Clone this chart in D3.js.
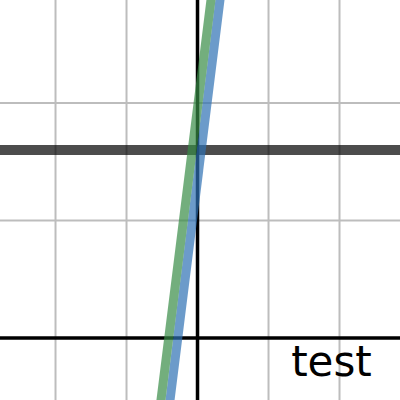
<!DOCTYPE html>
<html>
<head>
<meta charset="utf-8">
<script src="https://cdn.jsdelivr.net/npm/d3@7"></script>
<style>
	html, body { margin: 0; padding: 0; background: #fff; }
	svg { display: block; }
</style>
</head>
<body>
<svg id="graph" width="400" height="400"></svg>
<script>
// Visible window of the graph, in graph units
const xDomain = [-2.782, 2.852];
const yDomain = [-0.528, 2.877];

// Grid lines (every unit)
const xGrid = [-2, -1, 1, 2];
const yGrid = [1, 2];

// Thick horizontal line y = 1.6
const hLineY = 1.6;

// Two steep lines, read as endpoints
const blueX = [-0.423, 0.342];
const blueY = [-0.7, 3.0];
const greenX = [-0.55, 0.215];
const greenY = [-0.7, 3.0];

// Label
const labelText = "test";
const labelX = 1.887;
const labelY = -0.323;

function whenDocumentLoaded(action) {
	if (document.readyState === "loading") {
		document.addEventListener("DOMContentLoaded", action);
	} else {
		action();
	}
}

whenDocumentLoaded(() => {
	const svg = d3.select("#graph");
	const width = +svg.attr("width");
	const height = +svg.attr("height");

	const x = d3.scaleLinear().domain(xDomain).range([0, width]);
	const y = d3.scaleLinear().domain(yDomain).range([height, 0]);

	svg.append("defs")
		.append("clipPath")
		.attr("id", "clip")
		.append("rect")
		.attr("width", width)
		.attr("height", height);

	const plot = svg.append("g").attr("clip-path", "url(#clip)");

	// grid
	plot.append("g")
		.selectAll("line")
		.data(xGrid)
		.join("line")
		.attr("x1", (d) => x(d))
		.attr("x2", (d) => x(d))
		.attr("y1", 0)
		.attr("y2", height)
		.attr("stroke", "#bdbdbd")
		.attr("stroke-width", 2);

	plot.append("g")
		.selectAll("line")
		.data(yGrid)
		.join("line")
		.attr("x1", 0)
		.attr("x2", width)
		.attr("y1", (d) => y(d))
		.attr("y2", (d) => y(d))
		.attr("stroke", "#bdbdbd")
		.attr("stroke-width", 2);

	// axes
	plot.append("line")
		.attr("x1", x(0)).attr("x2", x(0))
		.attr("y1", 0).attr("y2", height)
		.attr("stroke", "#000")
		.attr("stroke-width", 3.5);

	plot.append("line")
		.attr("x1", 0).attr("x2", width)
		.attr("y1", y(0)).attr("y2", y(0))
		.attr("stroke", "#000")
		.attr("stroke-width", 3.5);

	// thick horizontal line
	plot.append("line")
		.attr("x1", x(xDomain[0]) - 5).attr("x2", x(xDomain[1]) + 5)
		.attr("y1", y(hLineY)).attr("y2", y(hLineY))
		.attr("stroke", "#000")
		.attr("stroke-opacity", 0.7)
		.attr("stroke-width", 10);

	const line = d3.line()
		.x((d) => x(d[0]))
		.y((d) => y(d[1]));

	const series = [
		{ xs: blueX, ys: blueY, color: "#2d70b3" },
		{ xs: greenX, ys: greenY, color: "#388c46" },
	];

	plot.append("g")
		.selectAll("path")
		.data(series)
		.join("path")
		.attr("d", (s) => line(d3.zip(s.xs, s.ys)))
		.attr("fill", "none")
		.attr("stroke", (s) => s.color)
		.attr("stroke-opacity", 0.7)
		.attr("stroke-width", 9);

	// label
	svg.append("text")
		.attr("x", x(labelX))
		.attr("y", y(labelY))
		.attr("text-anchor", "middle")
		.style("font", "42px 'DejaVu Sans', sans-serif")
		.attr("fill", "#000")
		.text(labelText);
});
</script>
</body>
</html>
